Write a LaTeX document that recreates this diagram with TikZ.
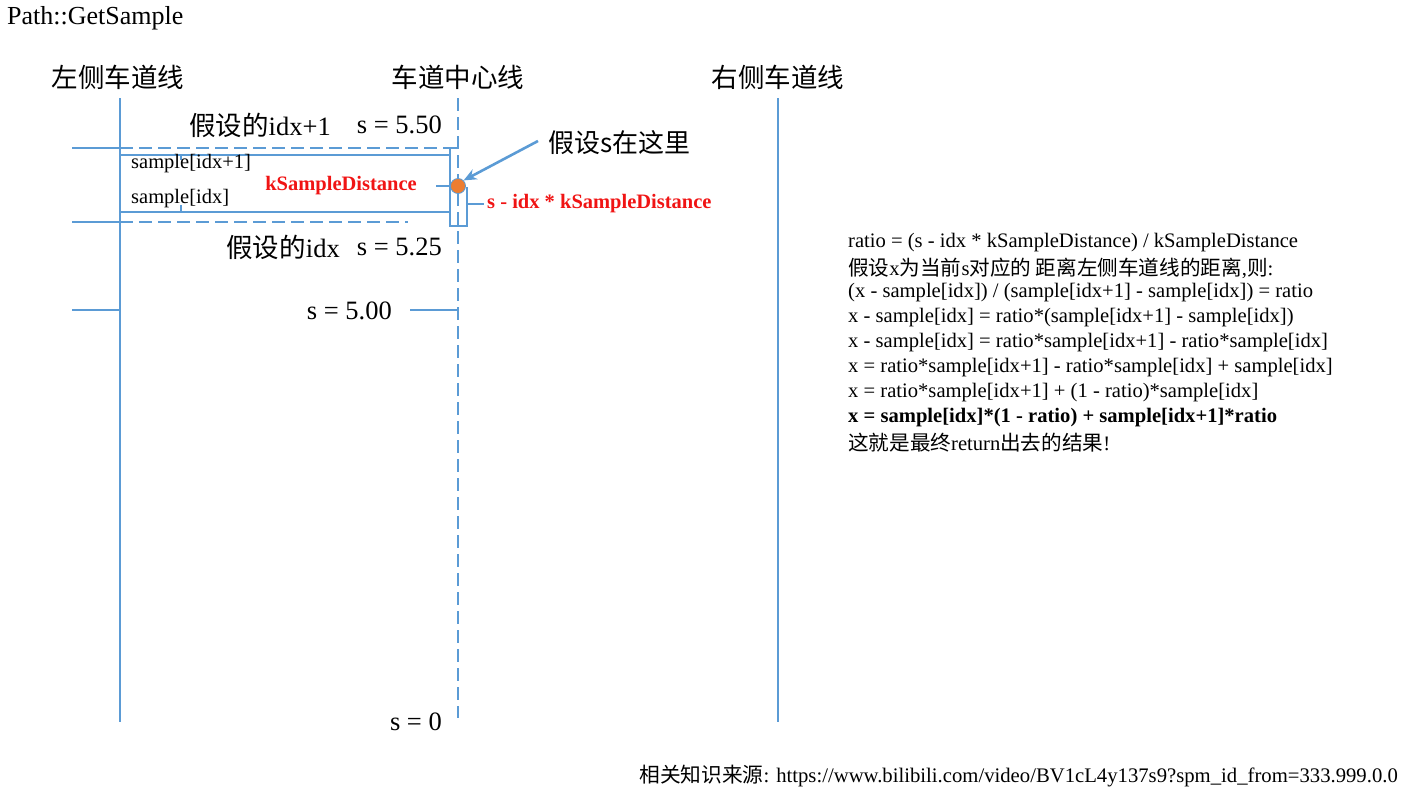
\documentclass[tikz,border=0pt]{standalone}
\usepackage{fontspec}
\usetikzlibrary{arrows.meta}
\setmainfont{Liberation Serif}
\newfontfamily\cjk{Noto Sans CJK SC}
\definecolor{lblue}{RGB}{91,155,213}
\definecolor{kred}{RGB}{240,20,20}
\definecolor{dorange}{RGB}{237,125,49}
\begin{document}
\begin{tikzpicture}[x=1pt,y=-1pt,
  ln/.style={draw=lblue,line width=2.6pt},
  thin/.style={draw=lblue,line width=1.8pt},
  dsh/.style={dash pattern=on 13pt off 6pt},
  red/.style={text=kred,font=\bfseries\fontsize{20.5}{20.5}\selectfont},
  lbl/.style={font=\fontsize{26.5}{26.5}\selectfont,inner sep=0},
  hd/.style={inner sep=0,font=\cjk\fontsize{26.5}{26.5}\selectfont},
  rt/.style={font=\fontsize{20.6}{20.6}\selectfont,anchor=west,inner sep=0}]
\useasboundingbox (0,0) rectangle (1405,792);
\node[anchor=west,inner sep=0,font=\fontsize{26}{26}\selectfont] (title) at (7,18) {Path::GetSample};
\node[hd] (lt) at (118,77) {左侧车道线};
\node[hd] (ct) at (458,77) {车道中心线};
\node[hd] (rtt) at (778,77) {右侧车道线};
% main lines
\coordinate (l1) at (120,98); \coordinate (l2) at (120,722);
\coordinate (c1) at (458,98); \coordinate (c2) at (458,718);
\coordinate (r1) at (778,98); \coordinate (r2) at (778,722);
\draw[ln] (l1)--(l2); \draw[ln] (r1)--(r2); \draw[ln,dsh] (c1)--(c2);
% top line
\coordinate (t0) at (72,148); \coordinate (t1) at (120,148); \coordinate (t2) at (458,148);
\draw[ln] (t0)--(t1); \draw[ln,dsh] (t1)--(t2);
% bottom line
\coordinate (b0) at (72,222); \coordinate (b1) at (120,222); \coordinate (b2) at (408,222);
\draw[ln] (b0)--(b1); \draw[ln,dsh] (b1)--(b2);
% rectangle
\coordinate (ra) at (120,155); \coordinate (rb) at (450,212);
\draw[thin] (ra) rectangle (rb);
\draw[thin] (181,155)--(181,160) (181,205)--(181,212);
% bracket
\coordinate (k1) at (450,148); \coordinate (k2) at (450,226); \coordinate (k3) at (467,226); \coordinate (k4) at (467,187);
\draw[thin] (k1)--(k2)--(k3)--(k4);
\draw[thin] (k1)--(458,148);
\coordinate (kt) at (467,204); \coordinate (kt2) at (484,204);
\draw[thin] (kt)--(kt2);
% 5.00 ticks
\draw[ln] (72,310)--(120,310) (410,310)--(458,310);
% dot
\node[circle,fill=dorange,draw=lblue,line width=0.8pt,minimum size=15pt,inner sep=0] (dot) at (458,186) {};
\coordinate (kd) at (436,186);
\draw[thin] (kd)--(dot.west);
\node[anchor=west,inner sep=0,font=\cjk\fontsize{26}{26}\selectfont] (here) at (548,143) {假设s在这里};
\coordinate (ast) at (538,141);
\draw[ln,-{Stealth[length=13pt,width=11pt]}] (ast) -- (dot.north east);
% labels
\node[lbl,anchor=east] (i1) at (331,125) {{\cjk 假设的}idx+1};
\node[lbl,anchor=east] (s55) at (442,125) {s = 5.50};
\node[lbl,anchor=east] (i0) at (340,247) {{\cjk 假设的}idx};
\node[lbl,anchor=east] (s525) at (442,247) {s = 5.25};
\node[lbl,anchor=east] (s5) at (392,311) {s = 5.00};
\node[lbl,anchor=east] (s0) at (442,722) {s = 0};
\node[anchor=west,inner sep=0,font=\fontsize{20.5}{20.5}\selectfont] (sp1) at (131,164) {sample[idx+1]};
\node[anchor=west,inner sep=0,font=\fontsize{20.5}{20.5}\selectfont] (sp0) at (131,199) {sample[idx]};
\node[red,anchor=east,inner sep=0] (ksd) at (417,186) {kSampleDistance};
\node[red,anchor=west,inner sep=0] (sik) at (487,204) {s - idx * kSampleDistance};
% right text
\node[rt] at (848,243) {ratio = (s - idx * kSampleDistance) / kSampleDistance};
\node[rt] at (848,268) {{\cjk 假设}x{\cjk 为当前}s{\cjk 对应的 距离左侧车道线的距离}{,}{\cjk 则}:};
\node[rt] at (848,293) {(x - sample[idx]) / (sample[idx+1] - sample[idx]) = ratio};
\node[rt] at (848,318) {x - sample[idx] = ratio*(sample[idx+1] - sample[idx])};
\node[rt] at (848,343) {x - sample[idx] = ratio*sample[idx+1] - ratio*sample[idx]};
\node[rt] at (848,368) {x = ratio*sample[idx+1] - ratio*sample[idx] + sample[idx]};
\node[rt] at (848,393) {x = ratio*sample[idx+1] + (1 - ratio)*sample[idx]};
\node[rt,font=\bfseries\fontsize{20.6}{20.6}\selectfont] at (848,418) {x = sample[idx]*(1 - ratio) + sample[idx+1]*ratio};
\node[rt] at (848,443) {{\cjk 这就是最终}return{\cjk 出去的结果}!};
\node[anchor=east,inner sep=0,font=\fontsize{20.7}{20.7}\selectfont] (src) at (1398,776) {{\cjk 相关知识来源}: https://www.bilibili.com/video/BV1cL4y137s9?spm\_id\_from=333.999.0.0};
\end{tikzpicture}
\end{document}
